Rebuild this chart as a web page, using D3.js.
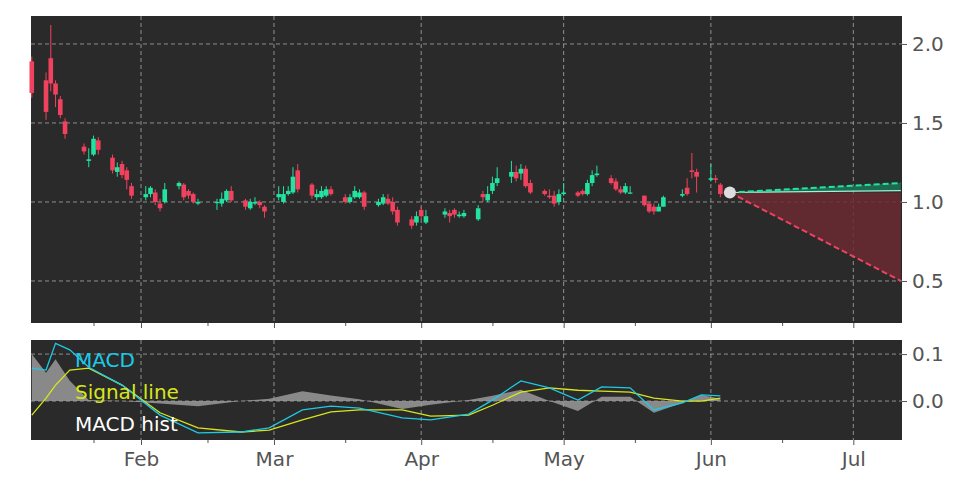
<!DOCTYPE html><html><head><meta charset="utf-8">
<script src="https://cdn.jsdelivr.net/npm/d3@7"></script>
<style>body{margin:0;background:#fff}text{font-family:"DejaVu Sans",sans-serif}</style></head><body>
<svg id="c" width="972" height="486"></svg>
<script>
// days since 2023-02-01
const candleDays=[-23,-20,-19,-18,-17,-16,-12,-11,-10,-9,-6,-5,-4,-3,-2,1,2,3,4,5,8,9,10,11,12,16,17,18,19,22,23,24,25,26,29,30,31,32,33,36,37,38,39,40,43,44,45,46,47,50,51,52,53,54,57,58,59,60,64,65,66,67,68,71,72,73,74,75,78,79,80,81,82,85,86,87,88,89,92,93,94,95,96,99,100,101,102,103,106,107,108,109,110,114,115,116,117,120,121,122];
const opens =[1.89,1.77,1.91,1.75,1.65,1.51,1.35,1.26,1.30,1.39,1.28,1.19,1.24,1.20,1.10,1.03,1.05,1.06,0.99,1.00,1.10,1.11,1.07,1.05,0.99,1.00,0.99,1.01,1.07,1.01,0.96,0.99,1.00,0.97,1.03,1.00,1.05,1.06,1.20,1.11,1.03,1.03,1.04,1.08,1.03,1.00,1.03,1.03,1.06,0.98,0.99,1.02,1.00,0.95,0.89,0.87,0.95,0.87,0.92,0.93,0.95,0.91,0.91,0.89,1.05,1.01,1.07,1.12,1.16,1.19,1.18,1.21,1.12,1.07,1.04,1.04,1.00,1.05,1.06,1.07,1.05,1.12,1.17,1.15,1.13,1.08,1.06,1.06,1.04,0.99,0.97,0.94,0.97,1.04,1.09,1.20,1.19,1.14,1.15,1.11];
const closes=[1.69,1.57,1.75,1.68,1.55,1.43,1.32,1.27,1.40,1.33,1.20,1.22,1.17,1.14,1.04,1.05,1.09,1.00,0.96,1.08,1.12,1.03,1.04,1.00,1.00,1.00,1.02,1.07,1.01,0.97,1.00,1.00,0.98,0.94,1.05,1.05,1.07,1.16,1.08,1.04,1.05,1.07,1.08,1.05,1.00,1.03,1.07,1.06,0.97,1.00,1.03,0.99,0.94,0.87,0.85,0.91,0.91,0.91,0.94,0.91,0.92,0.92,0.93,0.96,1.03,1.05,1.12,1.15,1.19,1.15,1.21,1.10,1.06,1.05,1.03,0.99,1.05,1.06,1.04,1.05,1.12,1.17,1.18,1.12,1.08,1.06,1.10,1.06,0.98,0.94,0.94,0.97,1.03,1.05,1.05,1.19,1.16,1.15,1.14,1.05];
const highs =[1.92,1.82,2.12,1.77,1.67,1.53,1.37,1.34,1.42,1.41,1.30,1.25,1.26,1.22,1.12,1.10,1.10,1.08,1.02,1.12,1.13,1.12,1.08,1.06,1.02,1.02,1.06,1.08,1.10,1.02,1.02,1.03,1.01,0.98,1.10,1.10,1.10,1.22,1.24,1.12,1.08,1.10,1.10,1.10,1.05,1.05,1.10,1.08,1.07,1.02,1.05,1.05,1.03,0.97,0.91,0.94,0.97,0.95,0.96,0.95,0.96,0.94,0.95,0.98,1.07,1.10,1.16,1.22,1.26,1.23,1.24,1.23,1.14,1.08,1.08,1.07,1.08,1.12,1.07,1.08,1.14,1.20,1.23,1.17,1.15,1.10,1.12,1.10,1.04,1.00,0.99,0.99,1.04,1.08,1.15,1.31,1.21,1.24,1.17,1.12];
const lows  =[1.66,1.52,1.70,1.60,1.53,1.40,1.30,1.22,1.29,1.30,1.18,1.16,1.15,1.08,1.02,1.01,1.03,0.98,0.94,0.99,1.08,1.01,1.02,0.99,0.98,0.95,0.97,1.00,1.00,0.95,0.95,0.98,0.96,0.90,1.01,0.99,1.04,1.05,1.06,1.02,1.01,1.02,1.03,1.04,0.99,0.99,1.02,1.02,0.95,0.97,0.98,0.98,0.92,0.85,0.83,0.85,0.89,0.86,0.90,0.87,0.90,0.90,0.90,0.88,1.00,1.00,1.05,1.10,1.12,1.13,1.14,1.09,1.05,1.04,1.02,0.97,0.98,1.04,1.03,1.04,1.04,1.10,1.16,1.11,1.07,1.05,1.05,1.05,0.97,0.93,0.92,0.94,0.97,1.03,1.04,1.15,1.06,1.13,1.12,1.03];
const fcStartDay=124, fcEndDay=160, fcStart=1.06, fcUpper=1.12, fcMid=1.072, fcLower=0.50;
const macdDays=[-23,-20,-18,-15,-11,-4,4,12,21,27,34,40,46,55,61,69,74,80,86,92,97,103,108,114,118,122];
const macdVals=[0.070,0.066,0.123,0.109,0.072,0.034,-0.030,-0.068,-0.066,-0.057,-0.019,-0.011,-0.015,-0.036,-0.040,-0.028,0.002,0.043,0.028,0.002,0.030,0.028,-0.019,-0.004,0.013,0.011];
const signalVals=[-0.030,0.006,0.034,0.066,0.070,0.034,-0.025,-0.057,-0.066,-0.062,-0.040,-0.023,-0.019,-0.019,-0.032,-0.030,-0.009,0.019,0.028,0.023,0.021,0.019,0.006,0.000,0.000,0.006];
const priceTicks=[0.5,1.0,1.5,2.0], macdTicks=[0.0,0.1];
const monthTicks=["2023-02-01","2023-03-01","2023-04-01","2023-05-01","2023-06-01","2023-07-01"], monthLabels=["Feb","Mar","Apr","May","Jun","Jul"];
const minorTicks=["2023-01-22","2023-02-15","2023-03-16","2023-04-16","2023-05-16","2023-06-16"];

const base=new Date(2023,1,1), day=d=>d3.timeDay.offset(base,d);
const svg=d3.select("#c");
const L=31,R=902;
const x=d3.scaleTime().domain([new Date(2023,0,8,20),new Date(2023,6,11,6)]).range([L,R]);
const yP=d3.scaleLinear().domain([0.234,2.177]).range([323,16]);
const yM=d3.scaleLinear().domain([-0.083,0.130]).range([440,340]);
const grid="#aaaaaa";
function panel(y0,y1,ys,ticks,fmt){
  svg.append("rect").attr("x",L).attr("y",y0).attr("width",R-L).attr("height",y1-y0).attr("fill","#2a2a2a");
  const g=svg.append("g");
  monthTicks.forEach(t=>{const xx=x(new Date(t+"T00:00"));g.append("line").attr("x1",xx).attr("x2",xx).attr("y1",y0).attr("y2",y1).attr("stroke",grid).attr("stroke-dasharray","4,3").attr("stroke-width",0.8);});
  ticks.forEach(t=>{g.append("line").attr("x1",L).attr("x2",R).attr("y1",ys(t)).attr("y2",ys(t)).attr("stroke",grid).attr("stroke-dasharray","4,3").attr("stroke-width",0.8);});
  const ax=svg.append("g").attr("transform",`translate(${R},0)`).call(d3.axisRight(ys).tickValues(ticks).tickFormat(fmt).tickSize(5).tickPadding(5));
  ax.select(".domain").remove();
  ax.selectAll("text").attr("font-size",20).attr("fill","#555");ax.selectAll("line").attr("stroke","#555");
  const bx=svg.append("g").attr("transform",`translate(0,${y1})`).call(d3.axisBottom(x).tickValues(monthTicks.map(t=>new Date(t+"T00:00"))).tickFormat("").tickSize(5));
  bx.select(".domain").remove();bx.selectAll("line").attr("stroke","#555");
  const mx=svg.append("g").attr("transform",`translate(0,${y1})`).call(d3.axisBottom(x).tickValues(minorTicks.map(t=>new Date(t+"T00:00"))).tickFormat("").tickSize(3));
  mx.select(".domain").remove();mx.selectAll("line").attr("stroke","#555");
}
panel(16,323,yP,priceTicks,d3.format(".1f"));
panel(340,440,yM,macdTicks,d3.format(".1f"));
const xa=svg.append("g").attr("transform","translate(0,440)").call(d3.axisBottom(x).tickValues(monthTicks.map(t=>new Date(t+"T00:00"))).tickFormat((d,i)=>monthLabels[i]).tickSize(0).tickPadding(12));
xa.select(".domain").remove();xa.selectAll("text").attr("font-size",20).attr("fill","#555");

const up="#22e3a0", dn="#f0425e";
const cg=svg.append("g");
candleDays.forEach((d,i)=>{
  const xx=x(day(d)), c=closes[i]>=opens[i]?up:dn;
  cg.append("line").attr("x1",xx).attr("x2",xx).attr("y1",yP(highs[i])).attr("y2",yP(lows[i])).attr("stroke",c).attr("stroke-width",1);
  const t=yP(Math.max(opens[i],closes[i])), b=yP(Math.min(opens[i],closes[i]));
  cg.append("rect").attr("x",xx-2.3).attr("width",4.6).attr("y",t).attr("height",Math.max(1.2,b-t)).attr("fill",c);
});
const x0=x(day(fcStartDay)), x1=Math.min(R,x(day(fcEndDay)));
svg.append("path").attr("d",`M${x0},${yP(fcStart)}L${x1},${yP(fcStart)}L${x1},${yP(fcLower)}Z`).attr("fill","#6b2a32").attr("opacity",0.85);
svg.append("path").attr("d",`M${x0},${yP(fcStart)}L${x1},${yP(fcUpper)}L${x1},${yP(fcMid)}Z`).attr("fill","#1d6a50");
svg.append("line").attr("x1",x0).attr("y1",yP(fcStart)).attr("x2",x1).attr("y2",yP(fcMid)).attr("stroke","#9ff5d5").attr("stroke-width",1.2);
svg.append("line").attr("x1",x0).attr("y1",yP(fcStart)).attr("x2",x1).attr("y2",yP(fcUpper)).attr("stroke",up).attr("stroke-width",2).attr("stroke-dasharray","6,3");
svg.append("line").attr("x1",x0).attr("y1",yP(fcStart)).attr("x2",x1).attr("y2",yP(fcLower)).attr("stroke",dn).attr("stroke-width",2).attr("stroke-dasharray","6,3");
svg.append("circle").attr("cx",x0).attr("cy",yP(fcStart)).attr("r",6).attr("fill","#dddddd");

const hist=macdDays.map((d,i)=>({d,v:macdVals[i]-signalVals[i]}));
svg.append("path").datum(hist).attr("d",d3.area().x(p=>x(day(p.d))).y0(yM(0)).y1(p=>yM(p.v))).attr("fill","#9a9a9a").attr("opacity",0.85);
const ln=arr=>d3.line().x((d,i)=>x(day(macdDays[i]))).y(v=>yM(v))(arr);
svg.append("path").attr("d",ln(signalVals)).attr("fill","none").attr("stroke","#d8e61c").attr("stroke-width",1.3);
svg.append("path").attr("d",ln(macdVals)).attr("fill","none").attr("stroke","#1ec9e6").attr("stroke-width",1.3);
[["MACD","#1ec9e6",367],["Signal line","#d8e61c",399],["MACD hist","#ffffff",431]].forEach(([t,c,yy])=>svg.append("text").attr("x",75).attr("y",yy).attr("font-size",20).attr("fill",c).text(t));
</script></body></html>
